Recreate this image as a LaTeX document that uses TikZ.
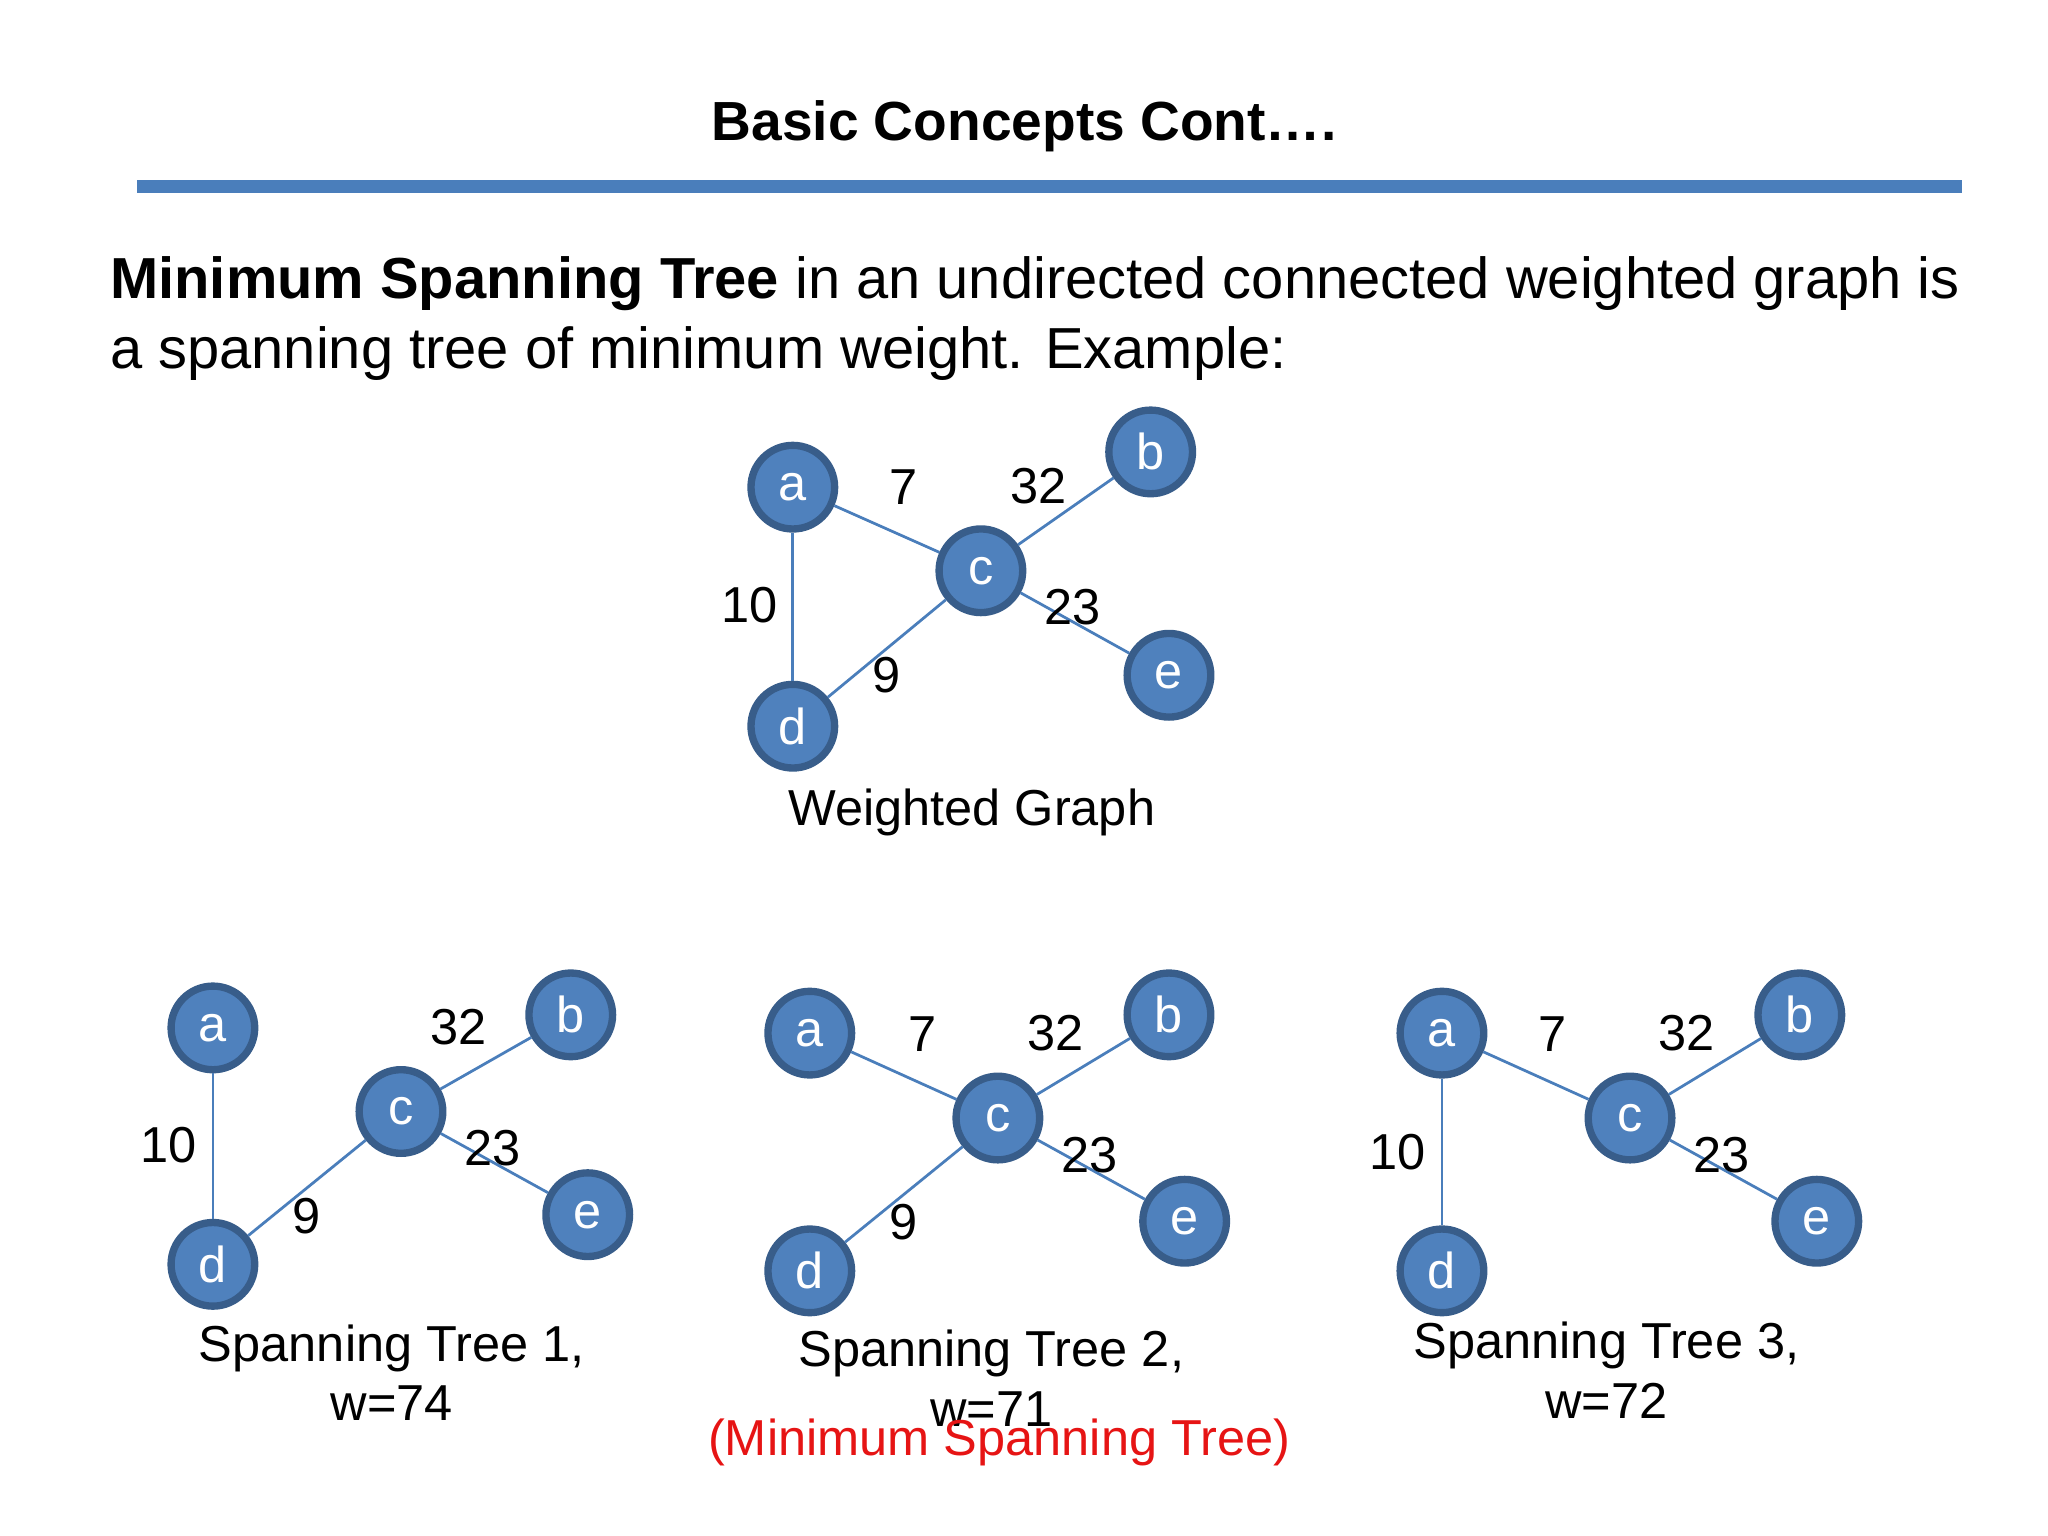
\documentclass[tikz,border=0pt]{standalone}
\usepackage{fontspec}
\setmainfont{Liberation Sans}
\definecolor{nodefill}{RGB}{79,129,189}
\definecolor{nodeline}{RGB}{56,93,138}
\definecolor{edgec}{RGB}{74,126,187}
\definecolor{mstred}{RGB}{230,20,20}
\begin{document}
\begin{tikzpicture}[x=0.01cm,y=-0.01cm,
  v/.style={circle,fill=nodefill,draw=nodeline,line width=1.6pt,minimum size=0.64cm,inner sep=0pt,text=white,font=\fontsize{11pt}{11pt}\selectfont},
  e/.style={draw=edgec,line width=0.6pt},
  w/.style={font=\fontsize{11pt}{11pt}\selectfont},
  captext/.style={font=\fontsize{11pt}{13pt}\selectfont,align=center}]
\useasboundingbox (0,0) rectangle (1568,1176);
\node[font=\bfseries\fontsize{12pt}{12pt}\selectfont] (title) at (784,97) {Basic Concepts Cont….};
\fill[edgec] (105,138) rectangle (1502,148);
\node[anchor=west,align=left,font=\fontsize{12.6pt}{15.2pt}\selectfont] (body) at (72,244) {\textbf{Minimum Spanning Tree} in an undirected connected weighted graph is\\a spanning tree of minimum weight. Example:};
% main graph
\node[v] (a) at (607,373) {a};
\node[v] (b) at (881,346) {b};
\node[v] (c) at (751,437) {c};
\node[v] (d) at (607,556) {d};
\node[v] (e1) at (895,517) {e};
\draw[e] (a) -- (c); \draw[e] (c) -- (b); \draw[e] (a) -- (d); \draw[e] (c) -- (e1); \draw[e] (c) -- (d);
\node[w] (l1) at (692,373) {7};
\node[w] (l2) at (795,372) {32};
\node[w] (l3) at (574,463) {10};
\node[w] (l4) at (821,465) {23};
\node[w] (l5) at (679,517) {9};
\node[captext] (cap0) at (744,622) {Weighted Graph};
% tree 1
\node[v] (a1) at (163,787) {a};
\node[v] (b1) at (437,777) {b};
\node[v] (c1) at (307,851) {c};
\node[v] (d1) at (163,968) {d};
\node[v] (ee1) at (450,930) {e};
\draw[e] (c1) -- (b1); \draw[e] (a1) -- (d1); \draw[e] (c1) -- (ee1); \draw[e] (c1) -- (d1);
\node[w] (m1) at (351,786) {32};
\node[w] (m2) at (129,877) {10};
\node[w] (m3) at (377,879) {23};
\node[w] (m4) at (235,931) {9};
\node[captext] (cap1) at (300,1051) {Spanning Tree 1,\\w=74};
% tree 2
\node[v] (a2) at (620,791) {a};
\node[v] (b2) at (895,777) {b};
\node[v] (c2) at (764,856) {c};
\node[v] (d2) at (620,973) {d};
\node[v] (ee2) at (907,935) {e};
\draw[e] (a2) -- (c2); \draw[e] (c2) -- (b2); \draw[e] (c2) -- (ee2); \draw[e] (c2) -- (d2);
\node[w] (n1) at (706,792) {7};
\node[w] (n2) at (808,791) {32};
\node[w] (n3) at (834,884) {23};
\node[w] (n4) at (692,936) {9};
\node[captext] (cap2) at (759,1055) {Spanning Tree 2,\\w=71};
\node[captext,text=mstred] (mst) at (765,1104) {(Minimum Spanning Tree)};
% tree 3
\node[v] (a3) at (1104,791) {a};
\node[v] (b3) at (1378,777) {b};
\node[v] (c3) at (1248,856) {c};
\node[v] (d3) at (1104,973) {d};
\node[v] (ee3) at (1391,935) {e};
\draw[e] (a3) -- (c3); \draw[e] (c3) -- (b3); \draw[e] (c3) -- (ee3); \draw[e] (a3) -- (d3);
\node[w] (o1) at (1189,792) {7};
\node[w] (o2) at (1291,791) {32};
\node[w] (o3) at (1070,882) {10};
\node[w] (o4) at (1318,884) {23};
\node[captext] (cap3) at (1230,1049) {Spanning Tree 3,\\w=72};
\end{tikzpicture}
\end{document}
